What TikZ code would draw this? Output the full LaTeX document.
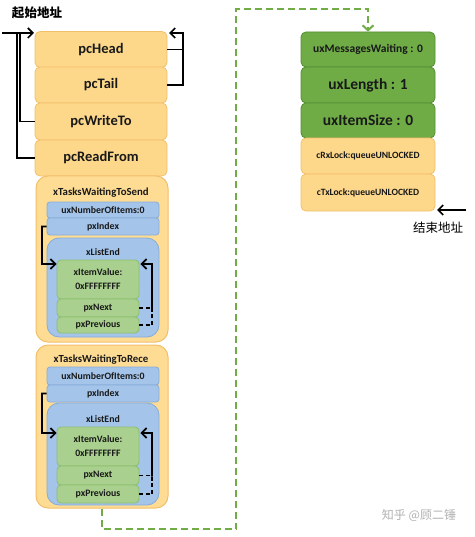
\documentclass[tikz,border=0pt]{standalone}
\usepackage{fontspec}
\setmainfont{Carlito}
\newfontfamily\cjk{Noto Sans CJK SC}
\usetikzlibrary{arrows.meta,calc}
\definecolor{orfill}{HTML}{FDD88B}
\definecolor{ordraw}{HTML}{F2C06A}
\definecolor{ctfill}{HTML}{FEDC94}
\definecolor{blfill}{HTML}{A4C4EA}
\definecolor{bldraw}{HTML}{86ACDA}
\definecolor{lgfill}{HTML}{A9D08E}
\definecolor{lgdraw}{HTML}{8CBF6F}
\definecolor{dgfill}{HTML}{6FAC46}
\definecolor{dgdraw}{HTML}{568D34}
\definecolor{dashgreen}{HTML}{70AD47}
\tikzset{
  cell/.style={rectangle, inner sep=0pt, line width=0.8pt, font=\bfseries, text=black!90},
  obox/.style={cell, draw=ordraw, fill=orfill, rounded corners=5pt, minimum width=132pt},
  ctbox/.style={cell, draw=ordraw, fill=ctfill, rounded corners=12pt, minimum width=132pt, line width=1pt},
  bbox/.style={cell, draw=bldraw, fill=blfill, rounded corners=3pt, minimum width=112pt, font=\bfseries\fontsize{9.8}{11}\selectfont},
  lebox/.style={cell, draw=bldraw, fill=blfill, rounded corners=12pt, minimum width=112pt},
  gbox/.style={cell, draw=lgdraw, fill=lgfill, rounded corners=4pt, minimum width=82pt, font=\bfseries\fontsize{9.8}{14}\selectfont, align=center},
  dbox/.style={cell, draw=dgdraw, fill=dgfill, rounded corners=5pt, minimum width=134pt},
  ptr/.style={line width=1.7pt, black},
  ptrarrow/.style={ptr, -{Straight Barb[length=5pt,width=10pt,line width=1.7pt]}},
  dptr/.style={line width=1.7pt, black, dash pattern=on 4pt off 2.5pt},
  lbl/.style={font=\bfseries\fontsize{9.8}{11}\selectfont, text=black!90, inner sep=0pt},
}
\begin{document}
\begin{tikzpicture}[x=1pt,y=-1pt]
\useasboundingbox (0,0) rectangle (474,537);
\fill[white] (0,0) rectangle (474,537);

% top-left stack
\node[obox, minimum height=36pt, font=\bfseries\fontsize{14.5}{16}\selectfont] (pcHead) at (101,49.5) {pcHead};
\node[obox, minimum height=36pt, font=\bfseries\fontsize{14.5}{16}\selectfont] (pcTail) at (101,85) {pcTail};
\node[obox, minimum height=37pt, font=\bfseries\fontsize{14.5}{16}\selectfont] (pcWriteTo) at (101,121.5) {pcWriteTo};
\node[obox, minimum height=36pt, font=\bfseries\fontsize{14.5}{16}\selectfont] (pcReadFrom) at (101,158) {pcReadFrom};

% container 1
\node[ctbox, minimum height=166pt] (ct1) at (102,259) {};
\node[lbl, font=\bfseries\fontsize{10.8}{12}\selectfont] (t1) at (101,193) {xTasksWaitingToSend};
\node[bbox, minimum height=16pt] (num1) at (103,210) {uxNumberOfItems:0};
\node[bbox, minimum height=17pt] (idx1) at (103,226.5) {pxIndex};
\node[lebox, minimum height=99pt] (le1) at (103,287.5) {};
\node[lbl] (let1) at (103,252) {xListEnd};
\node[gbox, minimum height=39pt] (it1) at (98,279.5) {xItemValue:\\0xFFFFFFFF};
\node[gbox, minimum height=18pt] (nx1) at (98,308) {pxNext};
\node[gbox, minimum height=16pt] (pv1) at (98,325) {pxPrevious};

% container 2
\node[ctbox, minimum height=163pt] (ct2) at (102,426.5) {};
\node[lbl, font=\bfseries\fontsize{10.8}{12}\selectfont] (t2) at (101,360) {xTasksWaitingToRece};
\node[bbox, minimum height=18pt] (num2) at (103,376) {uxNumberOfItems:0};
\node[bbox, minimum height=17pt] (idx2) at (103,393.5) {pxIndex};
\node[lebox, minimum height=102pt] (le2) at (103,454) {};
\node[lbl] (let2) at (103,419) {xListEnd};
\node[gbox, minimum height=39pt] (it2) at (98,446.5) {xItemValue:\\0xFFFFFFFF};
\node[gbox, minimum height=19pt] (nx2) at (98,475.5) {pxNext};
\node[gbox, minimum height=18pt] (pv2) at (98,494) {pxPrevious};

% right stack
\node[dbox, minimum height=35pt, font=\bfseries\fontsize{11.5}{13}\selectfont] (mw) at (368,49.5) {uxMessagesWaiting : 0};
\node[dbox, minimum height=36pt, font=\bfseries\fontsize{15.5}{17}\selectfont] (len) at (368,85) {uxLength : 1};
\node[dbox, minimum height=35pt, font=\bfseries\fontsize{15.5}{17}\selectfont] (isz) at (368,120.5) {uxItemSize : 0};
\node[obox, minimum width=134pt, minimum height=36pt, font=\bfseries\fontsize{9.6}{11}\selectfont] (rx) at (368,156) {cRxLock:queueUNLOCKED};
\node[obox, minimum width=134pt, minimum height=37pt, font=\bfseries\fontsize{9.6}{11}\selectfont] (tx) at (368,192.5) {cTxLock:queueUNLOCKED};

% labels
\node[font=\cjk\bfseries\fontsize{12.5}{14}\selectfont, inner sep=0pt] (startlbl) at (37,13) {起始地址};
\node[font=\cjk\fontsize{12.5}{14}\selectfont, inner sep=0pt] (endlbl) at (438,228) {结束地址};
\node[font=\cjk\fontsize{12}{14}\selectfont, text=black!30, inner sep=0pt] (wm) at (419,515) {知乎 @顾二锤};

% coordinates
\coordinate (sL) at (2,33);
\coordinate (sT) at (34,33);
\coordinate (hR) at (169,33);
\coordinate (eR) at (466,210);
\coordinate (eT) at (437,210);

% start pointers
\draw[ptrarrow] (sL) -- (sT);
\draw[ptr] (pcReadFrom.west) -| (17,33);
\draw[ptr] (pcWriteTo.west) -| (20,33);
\draw[ptr] (pcHead.east) -- (183,49.5);
\draw[ptrarrow] (pcTail.east) -| (183,33) -- (hR);

% end pointer
\draw[ptrarrow] (eR) -- (eT);

% inner list 1
\draw[ptrarrow] (idx1.west) -| (42,264) -- ($(it1.north west)+(0,4.5)$);
\draw[dptr] (nx1.east) -- (152,308);
\draw[dptr] (pv1.east) -- (152,325) -- (152,308);
\draw[ptrarrow] (152,309) -- (152,264) -- ($(it1.north east)+(1,4.5)$);

% inner list 2
\draw[ptrarrow] (idx2.west) -| (42,433) -- ($(it2.north west)+(0,6.5)$);
\draw[dptr] (nx2.east) -- (152,475.5);
\draw[dptr] (pv2.east) -- (152,494) -- (152,475.5);
\draw[ptrarrow] (152,476.5) -- (152,433) -- ($(it2.north east)+(1,6.5)$);

% green dashed link
\draw[dashgreen, line width=2.4pt, dash pattern=on 7pt off 4pt, -{Straight Barb[length=5pt,width=11pt,line width=2pt]}]
  (ct2.south) -- (102,529) -- (236,529) -- (236,9) -- (368,9) -- (mw.north);
\end{tikzpicture}
\end{document}
